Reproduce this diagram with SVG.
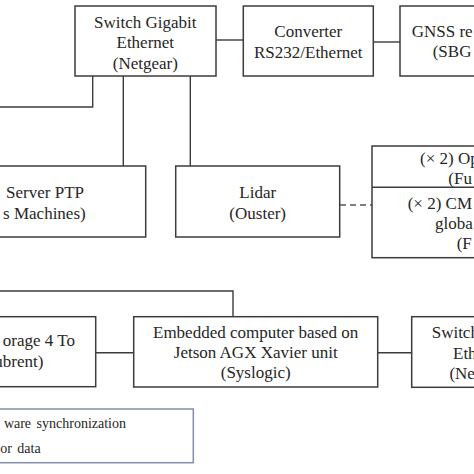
<svg xmlns="http://www.w3.org/2000/svg" width="474" height="474" viewBox="0 0 474 474">
<style>
.box{fill:#fff;stroke:#3c3c3c;stroke-width:1.5}
.ln{fill:none;stroke:#3c3c3c;stroke-width:1.4}
.dash{fill:none;stroke:#555;stroke-width:1.3;stroke-dasharray:6,4}
text{font-family:"Liberation Serif","Times New Roman",serif;font-size:17px;fill:#262626}
.c{text-anchor:middle}
.e{text-anchor:end}
.leg{font-size:14px;word-spacing:2px}
</style>
<rect width="474" height="474" fill="#fff"/>
<g id="connectors">
<line class="ln" x1="216" y1="40" x2="243" y2="40"/>
<line class="ln" x1="373" y1="42" x2="400" y2="42"/>
<polyline class="ln" points="92.7,76 92.7,107 0,107"/>
<line class="ln" x1="123.3" y1="76" x2="123.3" y2="166"/>
<line class="ln" x1="190.3" y1="76" x2="190.3" y2="166"/>
<line class="dash" x1="340" y1="205" x2="372" y2="205"/>
<polyline class="ln" points="0,291 233,291 233,317"/>
<line class="ln" x1="96" y1="352.7" x2="134" y2="352.7"/>
<line class="ln" x1="378" y1="352.7" x2="412" y2="352.7"/>
</g>
<g id="switch-top">
<rect class="box" x="75" y="6" width="141" height="70"/>
<text class="c" x="145.3" y="27.5">Switch Gigabit</text>
<text class="c" x="145.3" y="48">Ethernet</text>
<text class="c" x="145.3" y="68.5">(Netgear)</text>
</g>
<g id="converter">
<rect class="box" x="243.3" y="6" width="130" height="70"/>
<text class="c" x="308.3" y="37.3">Converter</text>
<text class="c" x="308.3" y="57.5">RS232/Ethernet</text>
</g>
<g id="gnss">
<rect class="box" x="400" y="6" width="90" height="70"/>
<text x="411.7" y="37.3">GNSS re</text>
<text x="432.7" y="56.5">(SBG</text>
</g>
<g id="server-ptp">
<rect class="box" x="-10" y="166" width="155.7" height="71"/>
<text class="e" x="84" y="197.5">Server PTP</text>
<text class="e" x="85.7" y="218.5">s Machines)</text>
</g>
<g id="lidar">
<rect class="box" x="175.7" y="166" width="164" height="71"/>
<text class="c" x="257.7" y="197.5">Lidar</text>
<text class="c" x="257.7" y="218.5">(Ouster)</text>
</g>
<g id="cameras">
<rect class="box" x="372" y="146" width="120" height="111.7"/>
<line class="ln" x1="372" y1="187.3" x2="474" y2="187.3"/>
<text x="420" y="164.3">(× 2) Op</text>
<text x="448.3" y="184">(Fu</text>
<text x="407.7" y="208.5">(× 2) CM</text>
<text x="435" y="228.5">globa</text>
<text x="456.7" y="248.5">(F</text>
</g>
<g id="storage">
<rect class="box" x="-10" y="316.7" width="105.7" height="70"/>
<text class="e" x="75" y="346">orage 4 To</text>
<text class="e" x="43.3" y="366.5">ubrent)</text>
</g>
<g id="embedded">
<rect class="box" x="133.7" y="316.7" width="244" height="70.3"/>
<text class="c" x="255.7" y="337.5">Embedded computer based on</text>
<text class="c" x="255.7" y="357.5">Jetson AGX Xavier unit</text>
<text class="c" x="255.7" y="378">(Syslogic)</text>
</g>
<g id="switch-bottom">
<rect class="box" x="411.7" y="316.7" width="141" height="70.6"/>
<text x="431.7" y="338">Switch</text>
<text x="453" y="358.5">Eth</text>
<text x="449.4" y="379">(Ne</text>
</g>
<g id="legend">
<rect x="-10" y="409" width="203.3" height="53.7" fill="#fff" stroke="#8090a8" stroke-width="1.5"/>
<text class="leg e" x="126" y="427.7">ware synchronization</text>
<text class="leg e" x="40.7" y="453.3">or data</text>
</g>
</svg>
